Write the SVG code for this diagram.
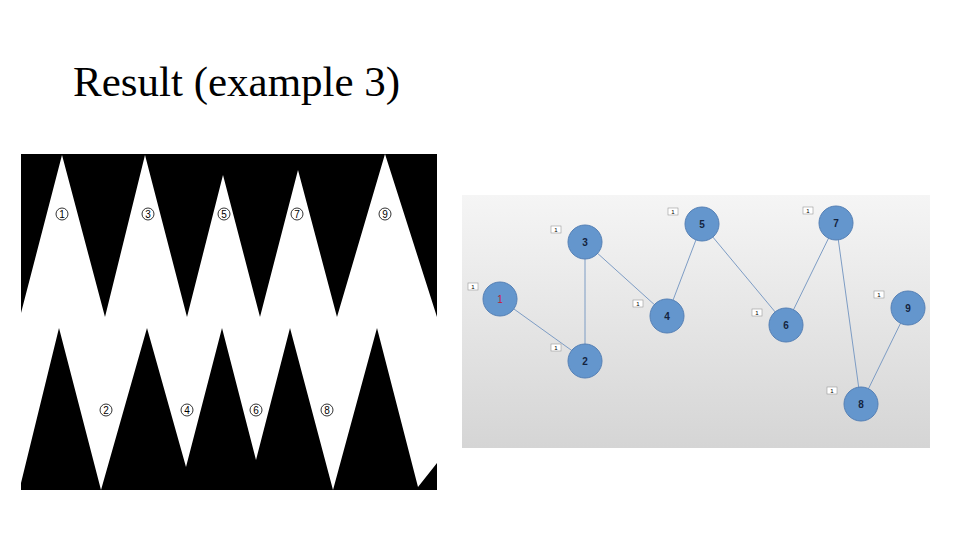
<svg xmlns="http://www.w3.org/2000/svg" width="960" height="540" viewBox="0 0 960 540">
<defs>
<linearGradient id="bg" x1="0" y1="0" x2="0" y2="1"><stop offset="0" stop-color="#f5f5f5"/><stop offset="1" stop-color="#d5d5d5"/></linearGradient>
<style>
.c circle{fill:#fff;stroke:#000;stroke-width:0.8}
.c text{font-family:"Liberation Sans",sans-serif;font-size:10px;text-anchor:middle;fill:#000}
.n circle{fill:#6496cd;stroke:#5580b5;stroke-width:1}
.n text{font-family:"Liberation Sans",sans-serif;font-size:10px;font-weight:bold;fill:#14243f;text-anchor:middle}
.lb rect{fill:#fff;stroke:#999;stroke-width:0.6}
.lb text{font-family:"Liberation Sans",sans-serif;font-size:6px;text-anchor:middle;fill:#000}
.e{stroke:#7d9cc4;stroke-width:1;fill:none}
</style>
</defs>
<rect width="960" height="540" fill="#fff"/>
<text x="73" y="96" font-family="Liberation Serif,serif" font-size="43" fill="#000">Result (example 3)</text>
<g id="zigzag">
<rect x="21" y="154" width="416" height="336" fill="#fff"/>
<polygon fill="#000" points="21,154 21,313 62,155 105,317 145,155 187,317 223,175 260,317 298,170 337,317 385,154 437,317 437,154"/>
<polygon fill="#000" points="21,490 21,483 59,328 101,490 147,328 186,467 222,328 256,460 290,328 333,490 377,328 418,487 437,463 437,490"/>
<g class="c"><circle cx="62" cy="214" r="6"/><text x="62" y="218">1</text></g>
<g class="c"><circle cx="148" cy="214" r="6"/><text x="148" y="218">3</text></g>
<g class="c"><circle cx="224" cy="214" r="6"/><text x="224" y="218">5</text></g>
<g class="c"><circle cx="297" cy="214" r="6"/><text x="297" y="218">7</text></g>
<g class="c"><circle cx="385" cy="214" r="6"/><text x="385" y="218">9</text></g>
<g class="c"><circle cx="106" cy="410" r="6"/><text x="106" y="414">2</text></g>
<g class="c"><circle cx="187" cy="410" r="6"/><text x="187" y="414">4</text></g>
<g class="c"><circle cx="256" cy="410" r="6"/><text x="256" y="414">6</text></g>
<g class="c"><circle cx="327" cy="410" r="6"/><text x="327" y="414">8</text></g>
</g>
<rect x="462" y="195" width="468" height="253" fill="url(#bg)"/>
<g id="edges">
<line class="e" x1="500" y1="299" x2="585" y2="360"/>
<line class="e" x1="585" y1="242" x2="585" y2="360"/>
<line class="e" x1="585" y1="242" x2="667" y2="316"/>
<line class="e" x1="667" y1="316" x2="702" y2="224"/>
<line class="e" x1="702" y1="224" x2="786" y2="325"/>
<line class="e" x1="786" y1="325" x2="836" y2="223"/>
<line class="e" x1="836" y1="223" x2="861" y2="404"/>
<line class="e" x1="861" y1="404" x2="908" y2="308"/>
</g>
<g id="labels">
<g class="lb"><rect x="468" y="283" width="10" height="7"/><text x="473" y="289">1</text></g>
<g class="lb"><rect x="551" y="344" width="10" height="7"/><text x="556" y="350">1</text></g>
<g class="lb"><rect x="551" y="226" width="10" height="7"/><text x="556" y="232">1</text></g>
<g class="lb"><rect x="633" y="300" width="10" height="7"/><text x="638" y="306">1</text></g>
<g class="lb"><rect x="668" y="208" width="10" height="7"/><text x="673" y="214">1</text></g>
<g class="lb"><rect x="752" y="309" width="10" height="7"/><text x="757" y="315">1</text></g>
<g class="lb"><rect x="803" y="207" width="10" height="7"/><text x="808" y="213">1</text></g>
<g class="lb"><rect x="827" y="387" width="10" height="7"/><text x="832" y="393">1</text></g>
<g class="lb"><rect x="874" y="291" width="10" height="7"/><text x="879" y="297">1</text></g>
</g>
<g id="node1" class="n"><circle cx="500" cy="299" r="17"/><text x="500" y="303" style="fill:#c0203a;font-weight:normal">1</text></g>
<g id="node2" class="n"><circle cx="585" cy="361" r="17"/><text x="585" y="365">2</text></g>
<g id="node3" class="n"><circle cx="585" cy="242" r="17"/><text x="585" y="246">3</text></g>
<g id="node4" class="n"><circle cx="667" cy="316" r="17"/><text x="667" y="320">4</text></g>
<g id="node5" class="n"><circle cx="702" cy="224" r="17"/><text x="702" y="228">5</text></g>
<g id="node6" class="n"><circle cx="786" cy="325" r="17"/><text x="786" y="329">6</text></g>
<g id="node7" class="n"><circle cx="836" cy="223" r="17"/><text x="836" y="227">7</text></g>
<g id="node8" class="n"><circle cx="861" cy="404" r="17"/><text x="861" y="408">8</text></g>
<g id="node9" class="n"><circle cx="908" cy="308" r="17"/><text x="908" y="312">9</text></g>
</svg>
